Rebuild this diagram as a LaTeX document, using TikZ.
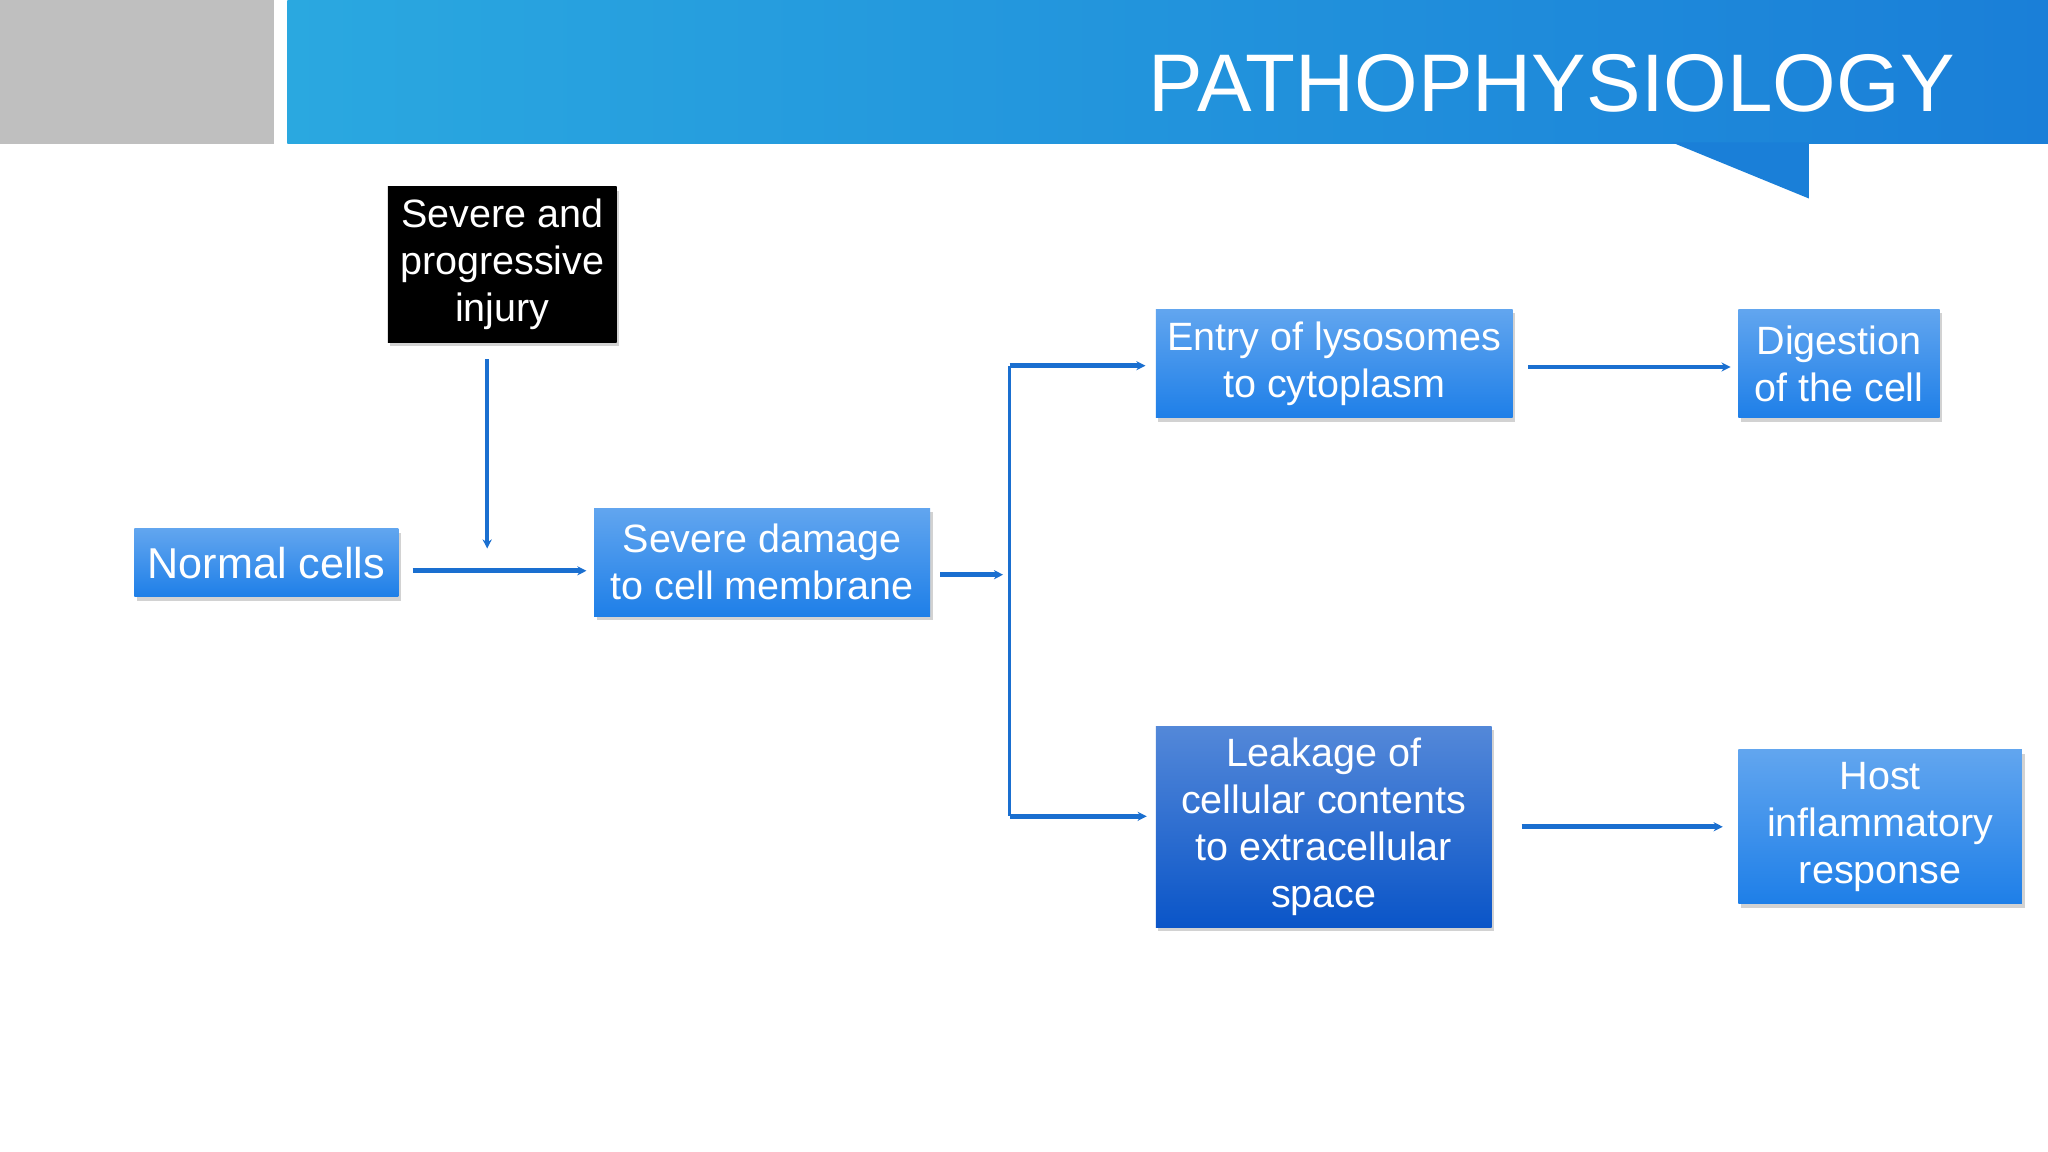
\documentclass[tikz,border=0pt]{standalone}
\usepackage{fontspec}
\setmainfont{Liberation Sans}
\usetikzlibrary{shadows,arrows.meta}
\definecolor{arr}{HTML}{1A6FD0}
\definecolor{hA}{HTML}{2AA8E0}
\definecolor{hB}{HTML}{1A7FD8}
\definecolor{bxc}{HTML}{1E7FE8}
\definecolor{lkc}{HTML}{0A55C8}
\tikzset{
 bx/.style={draw=none,top color=#1!70!white,bottom color=#1,text=white,align=center,
   drop shadow={shadow xshift=0.02cm,shadow yshift=-0.03cm,opacity=0.35},font=\fontsize{8.6}{10.2}\selectfont,inner sep=0},
 bx/.default=bxc,
 ar/.style={draw=arr,line width=0.035cm,-{Stealth[length=0.07cm,width=0.07cm]}},
 ln/.style={draw=arr,line width=0.02cm}
}
\begin{document}
\begin{tikzpicture}[x=0.01cm,y=-0.01cm]
\useasboundingbox (0,0) rectangle (1568,882);
\fill[white] (0,0) rectangle (1568,882);
\fill[gray!50] (0,0) rectangle (210,110);
\shade[left color=hA,right color=hB] (220,0) rectangle (1568,110);
\fill[hB] (1280,109) -- (1385,109) -- (1385,152) -- cycle;
\node[text=white,font=\fontsize{17.8}{20}\selectfont] (title) at (1188,64) {PATHOPHYSIOLOGY};
\node[bx,top color=black,bottom color=black,minimum width=1.75cm,minimum height=1.19cm] (inj) at (384.5,202.5) {Severe and\\progressive\\injury};
\node[bx,minimum width=2.02cm,minimum height=0.52cm,font=\fontsize{9.4}{11}\selectfont] (norm) at (204,431) {Normal cells};
\node[bx,minimum width=2.57cm,minimum height=0.83cm] (dmg) at (583.5,430.5) {Severe damage\\to cell membrane};
\node[bx,minimum width=2.73cm,minimum height=0.83cm] (lys) at (1021.5,278.5) {Entry of lysosomes\\to cytoplasm};
\node[bx,minimum width=1.54cm,minimum height=0.83cm] (dig) at (1408,278.5) {Digestion\\of the cell};
\node[bx=lkc,minimum width=2.57cm,minimum height=1.54cm] (leak) at (1013.5,633) {Leakage of\\cellular contents\\to extracellular\\space};
\node[bx,minimum width=2.17cm,minimum height=1.18cm] (host) at (1439.5,633) {Host\\inflammatory\\response};
\coordinate (v1) at (373,275); \coordinate (v2) at (373,420);
\coordinate (n1) at (316,437); \coordinate (n2) at (449,437);
\coordinate (d1) at (720,440); \coordinate (d2) at (768,440);
\coordinate (bt) at (773,280); \coordinate (bb) at (773,625);
\coordinate (t2) at (877,280); \coordinate (b2) at (878,625);
\coordinate (l1) at (1170,281); \coordinate (l2) at (1325,281);
\coordinate (k1) at (1165,633); \coordinate (k2) at (1319,633);
\draw[ar] (v1) -- (v2);
\draw[ar] (n1) -- (n2);
\draw[ar] (d1) -- (d2);
\draw[ln] (bt) -- (bb);
\draw[ar] (bt) -- (t2);
\draw[ar] (bb) -- (b2);
\draw[ar] (l1) -- (l2);
\draw[ar] (k1) -- (k2);
\end{tikzpicture}
\end{document}
